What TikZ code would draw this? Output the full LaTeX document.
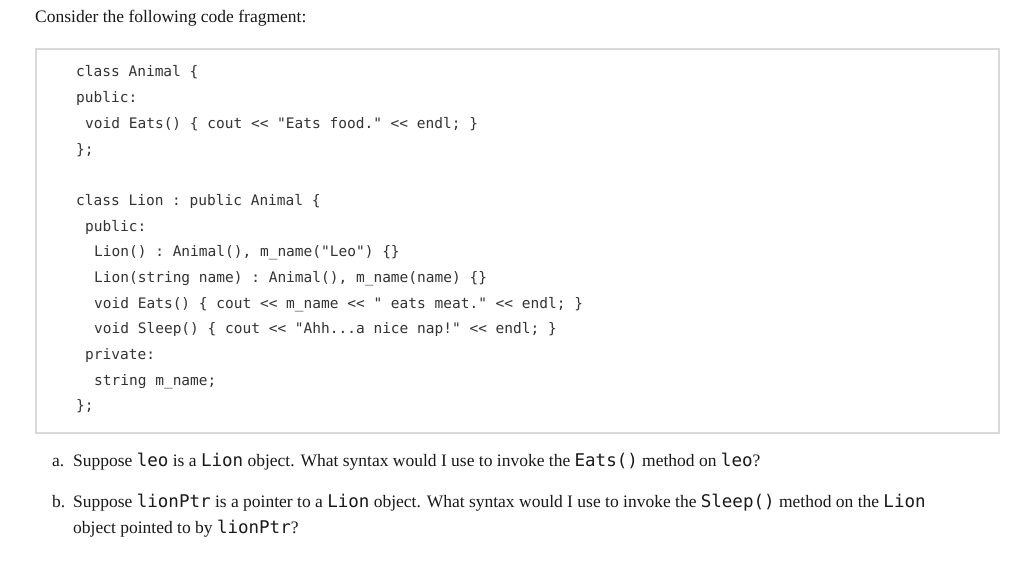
\documentclass[tikz,border=0pt]{standalone}
\usepackage{fontspec}
\setmainfont{Liberation Serif}
\setmonofont{DejaVu Sans Mono}
\begin{document}
\begin{tikzpicture}[x=1pt,y=-1pt,
  code/.style={anchor=mid west,inner sep=0pt,text=black!80,font=\fontsize{14.5}{16}\ttfamily},
  prose/.style={anchor=mid west,inner sep=0pt,text=black!90,font=\fontsize{17.5}{20}\selectfont}]
\useasboundingbox[fill=white] (0,0) rectangle (1024,562);
\draw[black!15,line width=2.5pt] (36,49) rectangle (999,433);
\node[prose] (h) at (35,20) {Consider the following code fragment:};
\node[code] (c1) at (76,74) {class Animal \{};
\node[code] (c2) at (76,100) {public:};
\node[code] (c3) at (85,126) {void Eats() \{ cout << "Eats food." << endl; \}};
\node[code] (c4) at (76,152) {\};};
\node[code] (c5) at (76,203) {class Lion : public Animal \{};
\node[code] (c6) at (85,229) {public:};
\node[code] (c7) at (94,254) {Lion() : Animal(), m\_name("Leo") \{\}};
\node[code] (c8) at (94,280) {Lion(string name) : Animal(), m\_name(name) \{\}};
\node[code] (c9) at (94,306) {void Eats() \{ cout << m\_name << " eats meat." << endl; \}};
\node[code] (c10) at (94,331) {void Sleep() \{ cout << "Ahh...a nice nap!" << endl; \}};
\node[code] (c11) at (85,357) {private:};
\node[code] (c12) at (94,383) {string m\_name;};
\node[code] (c13) at (76,408) {\};};
\node[prose] (la) at (52,464) {a.};
\node[prose] (ta) at (73,464) {Suppose \texttt{leo} is a \texttt{Lion} object. What syntax would I use to invoke the \texttt{Eats()} method on \texttt{leo}?};
\node[prose] (lb) at (52,505) {b.};
\node[prose] (tb) at (73,505) {Suppose \texttt{lionPtr} is a pointer to a \texttt{Lion} object. What syntax would I use to invoke the \texttt{Sleep()} method on the \texttt{Lion}};
\node[prose] (tb2) at (73,531) {object pointed to by \texttt{lionPtr}?};
\end{tikzpicture}
\end{document}
